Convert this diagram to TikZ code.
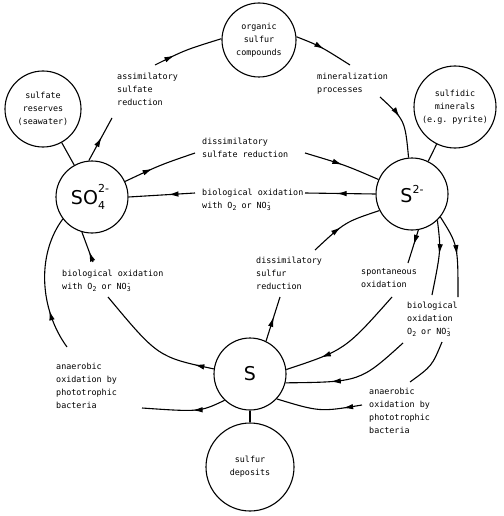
\documentclass[tikz,border=0pt]{standalone}
\usepackage{fontspec}
\setmonofont{DejaVu Sans Mono}
\newfontfamily\bigfont{DejaVu Sans}
\usetikzlibrary{arrows.meta,decorations.markings}
\newcommand\mysub[1]{\raisebox{-2pt}{\fontsize{6.5}{6.5}\selectfont #1}}
\newcommand\nothree{NO\rlap{\raisebox{3.5pt}{\fontsize{6.5}{6.5}\selectfont -}}\raisebox{-2pt}{\fontsize{6.5}{6.5}\selectfont 3}}
\tikzset{
  mytip/.tip={Latex[length=10pt,width=5.5pt]},
  conn/.style={line width=1.1pt},
  arr/.style={postaction={decorate,decoration={markings,mark=at position #1 with {\arrow{mytip}}}}},
  circ/.style={draw,circle,line width=1.1pt,inner sep=0pt,minimum size=#1,align=center,
    font=\ttfamily\fontsize{8.4}{13}\selectfont},
  lab/.style={anchor=north west,inner sep=0pt,align=left,font=\ttfamily\fontsize{8.4}{13}\selectfont},
  bigtxt/.style={font=\bigfont\fontsize{19}{19}\selectfont}
}
\begin{document}
\begin{tikzpicture}[x=1pt,y=-1pt]
\useasboundingbox (0,0) rectangle (503,516);
% circles
\node[circ=74pt] (org) at (259,40) {organic\\sulfur\\compounds};
\node[circ=76pt] (res) at (43,109) {sulfate\\reserves\\(seawater)};
\node[circ=82pt] (min) at (455,107) {sulfidic\\minerals\\(e.g. pyrite)};
\node[circ=72pt,bigtxt] (so4) at (92,197) {SO\rlap{\raisebox{12pt}{\fontsize{11}{11}\selectfont 2-}}\raisebox{-4.5pt}{\fontsize{11}{11}\selectfont 4}\hspace{8pt}};
\node[circ=72pt,bigtxt] (s2) at (412,194) {S\raisebox{9pt}{\fontsize{11}{11}\selectfont 2-}};
\node[circ=72pt,bigtxt] (s) at (250,374) {S};
\node[circ=88pt] (dep) at (250,467) {sulfur\\deposits};
% circle to circle
\draw[conn] (res) -- (so4);
\draw[conn] (s2) -- (min);
\draw[conn] (s) -- (dep);
% free ends
\coordinate (a1) at (112,118);
\coordinate (a2) at (155,65);
\coordinate (m1) at (350,65);
\coordinate (m2) at (380,97);
\coordinate (d1) at (195,153);
\coordinate (d2) at (305,153);
\coordinate (h1) at (195,193);
\coordinate (h2) at (305,193);
\coordinate (b1) at (93,262);
\coordinate (b2) at (108,297);
\coordinate (c1) at (67,347);
\coordinate (c2) at (142,408);
\coordinate (e1) at (280,297);
\coordinate (e2) at (315,250);
\coordinate (f1) at (408,263);
\coordinate (f2) at (392,297);
\coordinate (g1) at (432,295);
\coordinate (g2) at (403,343);
\coordinate (k1) at (458,297);
\coordinate (k2) at (442,342);
\coordinate (k3) at (410,382);
\coordinate (k4) at (362,405);
% connectors
\draw[conn,arr=0.55] (so4.95) -- (a1);
\draw[conn,arr=0.3] (a2) .. controls (185,50) .. (org.178);
\draw[conn,arr=0.5] (org.5) .. controls (320,46) .. (m1);
\draw[conn,arr=0.4] (m2) .. controls (405,120) .. (s2);
\draw[conn,arr=0.4] (so4) .. controls (160,165) .. (d1);
\draw[conn,arr=0.5] (d2) .. controls (345,165) .. (s2);
\draw[conn,arr=0.55] (s2.west) -- (h2);
\draw[conn,arr=0.4] (h1) -- (so4.east);
\draw[conn,arr=0.35] (b1) -- (so4.254);
\draw[conn,arr=0.15] (s.172) .. controls (158,357) .. (b2);
\draw[conn,arr=0.3] (c1) .. controls (40,310) and (36,255) .. (so4.217);
\draw[conn,arr=0.4] (s.226) .. controls (200,412) .. (c2);
\draw[conn,arr=0.55] (s.64) -- (e1);
\draw[conn,arr=0.45] (e2) .. controls (345,222) .. (s2.207);
\draw[conn,arr=0.45] (s2.280) -- (f1);
\draw[conn,arr=0.72] (f2) .. controls (345,350) .. (s.7);
\draw[conn,arr=0.45] (s2.314) .. controls (441,250) .. (g1);
\draw[conn,arr=0.65] (g2) .. controls (360,382) .. (s.346);
\draw[conn,arr=0.5] (s2.321) .. controls (458,245) .. (k1);
\draw[conn] (k2) .. controls (432,366) .. (k3);
\draw[conn,arr=0.22] (k4) .. controls (320,412) .. (s.317);
% labels
\node[lab] (l1) at (117,72.5) {assimilatory\\sulfate\\reduction};
\node[lab] (l2) at (317,72.5) {mineralization\\processes};
\node[lab] (l3) at (202,137.5) {dissimilatory\\sulfate reduction};
\node[lab] (l4) at (202,188.5) {biological oxidation\\with O\mysub{2} or \nothree};
\node[lab] (l5) at (62,269.5) {biological oxidation\\with O\mysub{2} or \nothree};
\node[lab] (l6) at (56,362.5) {anaerobic\\oxidation by\\phototrophic\\bacteria};
\node[lab] (l7) at (256,256.5) {dissimilatory\\sulfur\\reduction};
\node[lab] (l8) at (361,268.5) {spontaneous\\oxidation};
\node[lab] (l9) at (407,301.5) {biological\\oxidation\\O\mysub{2} or \nothree};
\node[lab] (l10) at (369,387.5) {anaerobic\\oxidation by\\phototrophic\\bacteria};
\end{tikzpicture}
\end{document}
